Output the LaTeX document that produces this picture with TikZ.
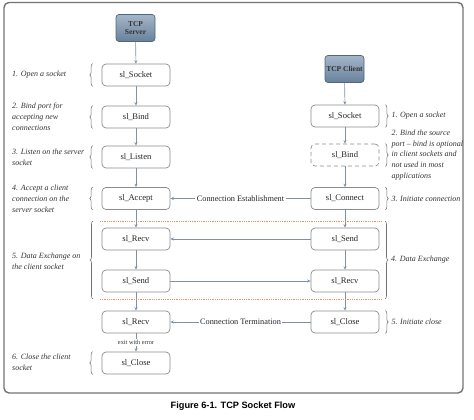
\documentclass[tikz,border=0pt]{standalone}
\usepackage{fontspec}
\setmainfont{Liberation Serif}
\newfontfamily\capfont{Liberation Sans}
\usetikzlibrary{
  arrows.meta,
  positioning,
  decorations.pathreplacing
}
\definecolor{arrgray}{HTML}{7F91A5}
\definecolor{boxgray}{HTML}{8C8C8C}
\definecolor{hosttop}{HTML}{A4B6C9}
\definecolor{hostbot}{HTML}{67819B}
\definecolor{hostline}{HTML}{52667A}
\definecolor{dotorange}{HTML}{E3956A}
\tikzset{
  callbox/.style={draw=boxgray, rounded corners=4pt, fill=white, line width=0.7pt,
    minimum width=68pt, minimum height=22pt, inner sep=0pt,
    font=\fontsize{8.6}{10}\selectfont, text=black!85},
  hostbox/.style={draw=hostline, rounded corners=3pt, line width=0.7pt,
    top color=hosttop, bottom color=hostbot,
    minimum width=39pt, minimum height=27pt,
    align=center, inner sep=0pt,
    font=\fontsize{7.5}{8.5}\selectfont\bfseries, text=black!80},
  note/.style={align=left, inner sep=0pt,
    font=\fontsize{8}{10.8}\selectfont\itshape, text=black!80},
  linklabel/.style={fill=white, inner sep=1.5pt,
    font=\fontsize{8.3}{10}\selectfont, text=black!85},
  arr/.style={-{Stealth[length=3.5pt, width=3pt]}, draw=arrgray, line width=0.6pt},
  brc/.style={decorate, decoration={brace, amplitude=3pt}, draw=black!55, line width=0.55pt},
  sep/.style={draw=dotorange, line width=0.7pt, dash pattern=on 0.8pt off 1pt},
}
\newcommand\usc{\kern-0.04em\_\kern-0.04em}

\begin{document}
\begin{tikzpicture}[x=1pt, y=-1pt]
  \useasboundingbox (0,0) rectangle (474,420);
  \draw[black!55, line width=1.4pt, rounded corners=5pt] (4,2.5) rectangle (463,393);

  \node[hostbox] (srv) at (135.5,28) {TCP\\Server};
  \node[callbox] (ssock) at (136,75) {sl\usc Socket};
  \node[callbox] (sbind) at (136,117) {sl\usc Bind};
  \node[callbox] (slist) at (136,157) {sl\usc Listen};
  \node[callbox] (sacc) at (136,198.5) {sl\usc Accept};
  \node[callbox] (srecva) at (136,239) {sl\usc Recv};
  \node[callbox] (ssend) at (136,281) {sl\usc Send};
  \node[callbox] (srecvb) at (136,322) {sl\usc Recv};
  \node[callbox] (sclose) at (136,363) {sl\usc Close};

  \node[hostbox] (cli) at (344.5,69) {TCP Client};
  \node[callbox] (csock) at (345,116) {sl\usc Socket};
  \node[callbox, dashed, dash pattern=on 4pt off 3pt] (cbind) at (345,155) {sl\usc Bind};
  \node[callbox] (cconn) at (345,198.5) {sl\usc Connect};
  \node[callbox] (csend) at (345,239) {sl\usc Send};
  \node[callbox] (crecv) at (345,281) {sl\usc Recv};
  \node[callbox] (cclose) at (345,322) {sl\usc Close};

  \draw[arr] (srv) -- (ssock);
  \draw[arr] (ssock) -- (sbind);
  \draw[arr] (sbind) -- (slist);
  \draw[arr] (slist) -- (sacc);
  \draw[arr] (sacc) -- (srecva);
  \draw[arr] (srecva) -- (ssend);
  \draw[arr] (ssend) -- (srecvb);
  \draw[arr] (srecvb) -- node[fill=white, inner sep=0.8pt, font=\fontsize{6.3}{7}\selectfont, text=black!80] {exit with error} (sclose);

  \draw[arr] (cli) -- (csock);
  \draw[arr] (csock) -- (cbind);
  \draw[arr] (cbind) -- (cconn);
  \draw[arr] (cconn) -- (csend);
  \draw[arr] (csend) -- (crecv);
  \draw[arr] (crecv) -- (cclose);

  \draw[arr] (cconn) -- node[linklabel] {Connection Establishment} (sacc);
  \draw[arr] (csend) -- (srecva);
  \draw[arr] (ssend) -- (crecv);
  \draw[arr] (cclose) -- node[linklabel] {Connection Termination} (srecvb);

  \draw[sep] (100,221) -- (381,221);
  \draw[sep] (100,299) -- (381,299);

  \draw[brc] ([xshift=-9pt]ssock.south west) -- ([xshift=-9pt]ssock.north west);
  \draw[brc] ([xshift=-9pt]sbind.south west) -- ([xshift=-9pt]sbind.north west);
  \draw[brc] ([xshift=-9pt]slist.south west) -- ([xshift=-9pt]slist.north west);
  \draw[brc] ([xshift=-9pt]sacc.south west) -- ([xshift=-9pt]sacc.north west);
  \draw[brc] (93,299) -- (93,221);
  \draw[brc] ([xshift=-9pt]sclose.south west) -- ([xshift=-9pt]sclose.north west);

  \draw[brc] ([xshift=6pt]csock.north east) -- ([xshift=6pt]csock.south east);
  \draw[brc] ([xshift=6pt]cbind.north east) -- ([xshift=6pt]cbind.south east);
  \draw[brc] ([xshift=6pt]cconn.north east) -- ([xshift=6pt]cconn.south east);
  \draw[brc] (385,221) -- (385,299);
  \draw[brc] ([xshift=6pt]cclose.north east) -- ([xshift=6pt]cclose.south east);

  \node[note, anchor=west] (lsock) at (12,75) {1. Open a socket};
  \node[note, anchor=west] (lbind) at (12,117) {2. Bind port for\\accepting new\\connections};
  \node[note, anchor=west] (llist) at (12,157.5) {3. Listen on the server\\socket};
  \node[note, anchor=west] (lacc) at (12,199) {4. Accept a client\\connection on the\\server socket};
  \node[note, anchor=west] (ldata) at (12,261) {5. Data Exchange on\\the client socket};
  \node[note, anchor=west] (lclose) at (12,362.5) {6. Close the client\\socket};

  \node[note, right=12pt of csock] (rsock) {1. Open a socket};
  \node[note, right=12pt of cbind] (rbind) {2. Bind the source\\port -- bind is optional\\in client sockets and\\not used in most\\applications};
  \node[note, right=12pt of cconn] (rconn) {3. Initiate connection};
  \node[note, anchor=west] (rdata) at (391,260) {4. Data Exchange};
  \node[note, right=12pt of cclose] (rclose) {5. Initiate close};

  \node[font=\fontsize{9.2}{11}\selectfont\capfont\bfseries] (cap) at (233,406) {Figure 6-1. TCP Socket Flow};
\end{tikzpicture}
\end{document}
